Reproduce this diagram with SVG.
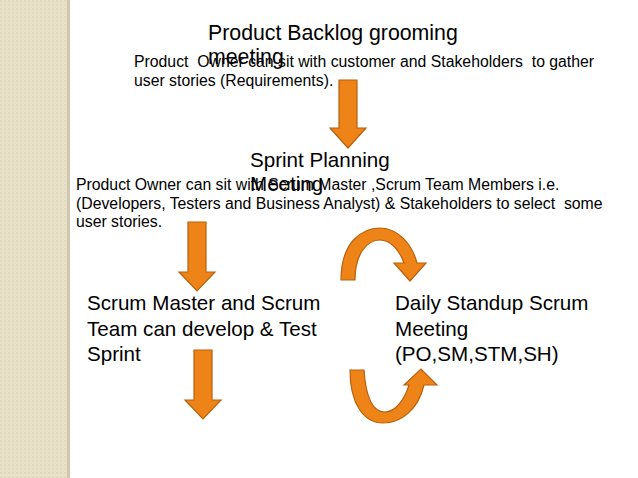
<svg xmlns="http://www.w3.org/2000/svg" width="638" height="478" viewBox="0 0 638 478">
<defs>
<pattern id="tex" width="4" height="4" patternUnits="userSpaceOnUse"><rect width="4" height="4" fill="#e9e0c9"/><rect width="2" height="2" fill="#e3d9bf"/></pattern>
</defs>
<style>
.t{font-family:"Liberation Sans",Arial,sans-serif;fill:#000;white-space:pre}
.big{font-size:20.6px}.ttl{font-size:21.3px}.sm{font-size:15.8px}
.arr{fill:#ee8318;stroke:#b8600e;stroke-width:1.2}
</style>
<rect width="638" height="478" fill="#fff"/>
<rect width="69" height="478" fill="url(#tex)"/>
<rect x="67" width="3" height="478" fill="#cfc6ae"/>
<g id="n-backlog">
<text class="t ttl" x="208" y="40">Product Backlog grooming</text>
<text class="t ttl" x="208" y="64">meeting</text>
<text class="t sm" x="134" y="67" xml:space="preserve">Product  Owner can sit with customer and Stakeholders  to gather</text>
<text class="t sm" x="134" y="86">user stories (Requirements).</text>
</g>
<g id="n-planning">
<text class="t big" x="250" y="167">Sprint Planning</text>
<text class="t big" x="250" y="191">Meeting</text>
<text class="t sm" x="76" y="190">Product Owner can sit with Scrum Master ,Scrum Team Members i.e.</text>
<text class="t sm" x="76" y="209" xml:space="preserve">(Developers, Testers and Business Analyst) &amp; Stakeholders to select  some</text>
<text class="t sm" x="76" y="227">user stories.</text>
</g>
<g id="n-develop">
<text class="t big" x="87" y="310">Scrum Master and Scrum</text>
<text class="t big" x="87" y="336">Team can develop &amp; Test</text>
<text class="t big" x="87" y="361">Sprint</text>
</g>
<g id="n-standup">
<text class="t big" x="395" y="310">Daily Standup Scrum</text>
<text class="t big" x="395" y="336">Meeting</text>
<text class="t big" x="395" y="361">(PO,SM,STM,SH)</text>
</g>
<g id="connectors">
<path class="arr" d="M339,80 H357 V128 H366 L348,148 L330,128 H339 Z"/>
<path class="arr" d="M188,222 H206 V272 H215 L197,291 L179,272 H188 Z"/>
<path class="arr" d="M194,350 H212 V400 H221 L203,419 L185,400 H194 Z"/>
<path class="arr" d="M341,280 C341,242 362,228 380,228 C398,228 412,244 417,263 L426,263 L410,281 L394,263 L404,263 C399,249 390,240 380,240 C367,240 355,254 355,280 Z"/>
<path class="arr" d="M350,370 L364,370 C366,400 374,412 385,412 C395,412 404,401 409,385 L404,385 L421,369 L437,385 L424,385 C418,410 401,423 383,423 C364,423 350,404 350,370 Z"/>
</g>
</svg>
